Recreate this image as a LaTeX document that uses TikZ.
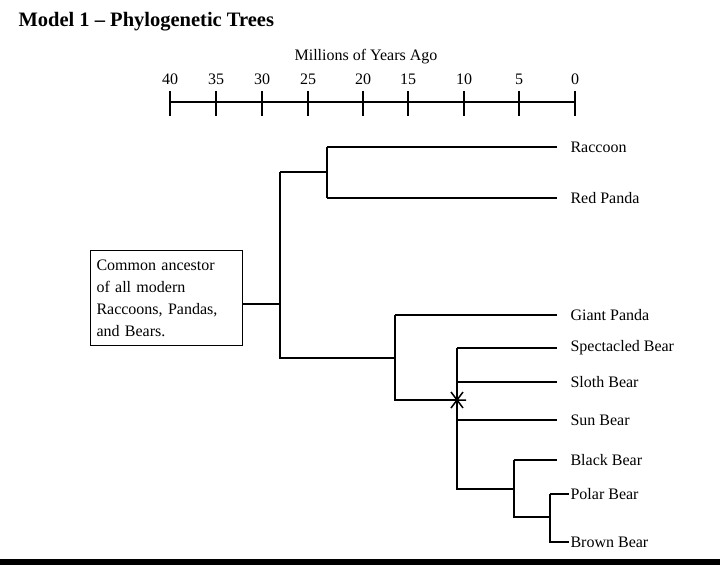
\documentclass[tikz,border=0pt]{standalone}
\usepackage{fontspec}
\setmainfont{Liberation Serif}
\begin{document}
\begin{tikzpicture}[x=1pt,y=-1pt,line width=1.1pt,
  br/.style={line width=1.2pt},
  lab/.style={anchor=west,font=\fontsize{16}{18}\selectfont,inner sep=1pt},
  tk/.style={font=\fontsize{16}{18}\selectfont}]
\useasboundingbox (0,0) rectangle (720,565);
\fill (0,559) rectangle (720,565);
\node[anchor=west,font=\bfseries\fontsize{20.5}{24}\selectfont,inner sep=0] (title) at (18,22) {Model 1 -- Phylogenetic Trees};
\node[tk] (axt) at (366,57) {Millions of Years Ago};
\draw[line width=2.2pt] (170,102) -- (575,102);
\foreach \x/\l in {170/40,216/35,262/30,308/25,363/20,408/15,464/10,519/5,575/0}{
  \draw[line width=2.2pt] (\x,91) -- (\x,116);
  \node[tk] at (\x,79) {\l};
}
\node[draw,line width=1pt,align=left,text width=140pt,inner xsep=6pt,inner ysep=9pt,font=\fontsize{16}{22}\selectfont,anchor=north west] (anc) at (90,250) {Common ancestor\\of all modern\\Raccoons, Pandas,\\and Bears.};
% labels
\node[lab] (rac) at (569,147) {Raccoon};
\node[lab] (rp) at (569,198) {Red Panda};
\node[lab] (gp) at (569,315) {Giant Panda};
\node[lab] (sp) at (569,348) {Spectacled Bear};
\node[lab] (sl) at (569,382) {Sloth Bear};
\node[lab] (su) at (569,420) {Sun Bear};
\node[lab] (bl) at (569,460) {Black Bear};
\node[lab] (po) at (569,494) {Polar Bear};
\node[lab] (brn) at (569,542) {Brown Bear};
\coordinate (n1) at (280,304);
\coordinate (n2) at (327,172);
\coordinate (n3) at (395,358);
\coordinate (n4) at (457,400);
\coordinate (n5) at (514,489);
\coordinate (n6) at (550,517);
\draw[br] (anc.east |- n1) -- (n1);
\draw[br] (n1 |- n2) -- (n2);
\draw[br] (n1 |- n2) -- (n1 |- n3) -- (n3);
\draw[br] (n2 |- rac) -- (n2 |- rp);
\draw[br] (n2 |- rac) -- ([xshift=-12pt]rac.west);
\draw[br] (n2 |- rp) -- ([xshift=-12pt]rp.west);
\draw[br] (n3 |- gp) -- (n3 |- n4) -- (n4);
\draw[br] (n3 |- gp) -- ([xshift=-12pt]gp.west);
\draw[br] (n4 |- sp) -- (n4 |- n5) -- (n5);
\draw[br] (n4 |- sp) -- ([xshift=-12pt]sp.west);
\draw[br] (n4 |- sl) -- ([xshift=-12pt]sl.west);
\draw[br] (n4 |- su) -- ([xshift=-12pt]su.west);
\draw[br] (n5 |- bl) -- (n5 |- n6) -- (n6);
\draw[br] (n5 |- bl) -- ([xshift=-12pt]bl.west);
\draw[br] (n6 |- po) -- (po.west);
\draw[br] (n6 |- po) -- (n6 |- brn) -- (brn.west);
\draw[line width=1.5pt] ([xshift=-9pt]n4) -- ([xshift=9pt]n4)
  ([xshift=-6pt,yshift=-8pt]n4) -- ([xshift=6pt,yshift=8pt]n4)
  ([xshift=6pt,yshift=-8pt]n4) -- ([xshift=-6pt,yshift=8pt]n4);
\end{tikzpicture}
\end{document}
